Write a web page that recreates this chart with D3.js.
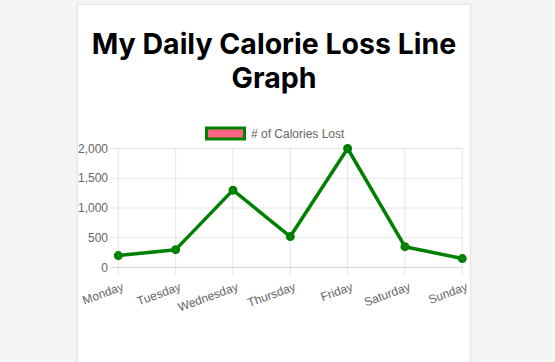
<!DOCTYPE html>
<html>
<head>
<meta charset="utf-8">
<script src="https://cdn.jsdelivr.net/npm/d3@7"></script>
<style>
  html, body { margin: 0; padding: 0; }
  body { width: 555px; height: 362px; background: #f4f6f6; overflow: hidden; position: relative; }
  .card { position: absolute; left: 77px; top: 4px; width: 392px; height: 400px; background: #fff;
          border: 1px solid #e4e6e6; box-shadow: 0 0 6px rgba(0,0,0,0.04); }
  svg { position: absolute; left: 0; top: 0; }
</style>
</head>
<body>
<div class="card"></div>
<div id="chart"></div>
<script>
const days = ['Monday', 'Tuesday', 'Wednesday', 'Thursday', 'Friday', 'Saturday', 'Sunday']
const calories = [200, 300, 1300, 520, 2000, 350, 150]
const yTicks = [0, 500, 1000, 1500, 2000]
const titleLines = ['My Daily Calorie Loss Line', 'Graph']
const seriesLabel = '# of Calories Lost'

function drawChart() {
  let svg = d3.select('#chart')
    .append('svg')
    .attr('width', 555)
    .attr('height', 362)

  // title
  svg.selectAll('.title')
    .data(titleLines)
    .enter()
    .append('text')
    .attr('class', 'title')
    .attr('x', 274)
    .attr('y', (d, i) => 53.5 + i * 34)
    .attr('text-anchor', 'middle')
    .style('font-family', 'Inter, sans-serif')
    .style('font-weight', 700)
    .style('font-size', '28.5px')
    .attr('fill', '#000')
    .text(d => d)

  let xScale = d3.scalePoint()
    .domain(days)
    .range([118.3, 462.3])

  let yScale = d3.scaleLinear()
    .domain([0, 2000])
    .range([267.5, 148.5])

  let grid = svg.append('g')

  // horizontal grid
  grid.selectAll('.hgrid')
    .data(yTicks)
    .enter()
    .append('line')
    .attr('x1', 110)
    .attr('x2', 462.3)
    .attr('y1', d => yScale(d))
    .attr('y2', d => yScale(d))
    .attr('stroke', d => d === 0 ? 'rgba(0,0,0,0.15)' : 'rgba(0,0,0,0.1)')
    .attr('stroke-width', 1)

  // vertical grid
  grid.selectAll('.vgrid')
    .data(days)
    .enter()
    .append('line')
    .attr('x1', d => xScale(d))
    .attr('x2', d => xScale(d))
    .attr('y1', 148.5)
    .attr('y2', 275.5)
    .attr('stroke', 'rgba(0,0,0,0.1)')
    .attr('stroke-width', 1)

  // y labels
  svg.selectAll('.ylab')
    .data(yTicks)
    .enter()
    .append('text')
    .attr('x', 108)
    .attr('y', d => yScale(d))
    .attr('dy', '0.35em')
    .attr('text-anchor', 'end')
    .style('font-family', '"Liberation Sans", Arial, sans-serif')
    .style('font-size', '12px')
    .attr('fill', '#666')
    .text(d => d3.format(',')(d))

  // x labels, rotated
  svg.selectAll('.xlab')
    .data(days)
    .enter()
    .append('text')
    .attr('transform', d => 'translate(' + (xScale(d) + 3) + ',281.5) rotate(-20)')
    .attr('dy', '0.75em')
    .attr('text-anchor', 'end')
    .style('font-family', '"Liberation Sans", Arial, sans-serif')
    .style('font-size', '12px')
    .attr('fill', '#666')
    .text(d => d)

  // line
  let line = d3.line()
    .x((d, i) => xScale(days[i]))
    .y(d => yScale(d))

  svg.append('path')
    .datum(calories)
    .attr('d', line)
    .attr('fill', 'none')
    .attr('stroke', 'green')
    .attr('stroke-width', 3.5)
    .attr('stroke-linejoin', 'round')

  svg.selectAll('.pt')
    .data(calories)
    .enter()
    .append('circle')
    .attr('cx', (d, i) => xScale(days[i]))
    .attr('cy', d => yScale(d))
    .attr('r', 2.5)
    .attr('fill', 'rgb(255,99,132)')
    .attr('stroke', 'green')
    .attr('stroke-width', 4)

  // legend
  svg.append('rect')
    .attr('x', 206.5)
    .attr('y', 128)
    .attr('width', 38)
    .attr('height', 11)
    .attr('fill', 'rgb(255,99,132)')
    .attr('stroke', 'green')
    .attr('stroke-width', 3)

  svg.append('text')
    .attr('x', 251)
    .attr('y', 137.5)
    .style('font-family', '"Liberation Sans", Arial, sans-serif')
    .style('font-size', '12px')
    .attr('fill', '#666')
    .text(seriesLabel)
}

drawChart()
</script>
</body>
</html>
